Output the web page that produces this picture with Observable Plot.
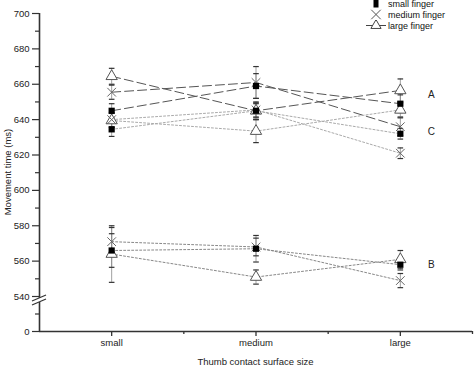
<!DOCTYPE html>
<html><head><meta charset="utf-8">
<script src="https://cdn.jsdelivr.net/npm/d3@7"></script>
<script src="https://cdn.jsdelivr.net/npm/@observablehq/plot@0.6"></script>
<style>
body{margin:0;background:#fff;font-family:"Liberation Sans",Arial,sans-serif;}
#wrap{position:relative;width:474px;height:366px;overflow:hidden;}
#legend{position:absolute;left:362px;top:-2px;font-size:9px;color:#111;}
#legend .row{display:flex;align-items:center;height:11px;}
#legend svg{width:26px;height:11px;margin-right:0px;}
#xtitle{position:absolute;left:0;width:511px;top:356px;text-align:center;font-size:9.5px;color:#222;}
#ytitle{position:absolute;left:7px;top:172px;transform:translate(-50%,-50%) rotate(-90deg);white-space:nowrap;font-size:9.5px;color:#222;}
</style></head><body>
<div id="wrap"></div>
<script>
// categories (x) and series names
const categories = ["small", "medium", "large"];
const fingers = ["small finger", "medium finger", "large finger"];
const groups = ["A", "B", "C"];

// Group A (upper, long dashes): values across categories
const A_smallFinger  = [645, 659, 649];
const A_mediumFinger = [655.5, 661, 636];
const A_largeFinger  = [664.5, 645, 656.5];
// Group C (upper, dotted)
const C_smallFinger  = [634.5, 645, 632];
const C_mediumFinger = [640, 645.5, 621];
const C_largeFinger  = [639.5, 633.5, 645.5];
// Group B (lower, dotted)
const B_smallFinger  = [566, 567, 558];
const B_mediumFinger = [571, 568, 549];
const B_largeFinger  = [564, 551, 561];

// error bar half-widths
const A_smallErr  = [4, 7, 5];
const A_mediumErr = [4, 9, 5];
const A_largeErr  = [4.5, 5, 6.5];
const C_smallErr  = [4, 4, 3];
const C_mediumErr = [4, 4, 3];
const C_largeErr  = [4, 6.5, 4];
const B_smallErr  = [9.5, 7.5, 3];
const B_mediumErr = [8, 5, 4];
const B_largeErr  = [16, 4, 5];

// y axis ticks
const yTicks = [0, 540, 560, 580, 600, 620, 640, 660, 680, 700];
const yMinor = [270, 550, 570, 590, 610, 630, 650, 670, 690];

// group labels
const groupLabels = ["A", "B", "C"];
const groupLabelY = [654, 558, 633];

const series = {
  A: [[A_smallFinger, A_smallErr], [A_mediumFinger, A_mediumErr], [A_largeFinger, A_largeErr]],
  B: [[B_smallFinger, B_smallErr], [B_mediumFinger, B_mediumErr], [B_largeFinger, B_largeErr]],
  C: [[C_smallFinger, C_smallErr], [C_mediumFinger, C_mediumErr], [C_largeFinger, C_largeErr]]
};
const rows = [];
for (const g of groups) {
  series[g].forEach(([vals, errs], fi) => {
    vals.forEach((v, ci) => rows.push({group: g, finger: fingers[fi], key: g + fi, xi: ci + 1, cat: categories[ci], v, e: errs[ci]}));
  });
}
const labels = groupLabels.map((label, i) => ({label, y: groupLabelY[i]}));

const cap = {draw(ctx, size) { const r = Math.sqrt(size / Math.PI); ctx.moveTo(-r, 0); ctx.lineTo(r, 0); }};
const byF = f => rows.filter(d => d.finger === f);
const byG = g => rows.filter(d => d.group === g);

const chart = Plot.plot({
  width: 474, height: 366,
  marginLeft: 39, marginRight: 2, marginTop: 13, marginBottom: 35,
  style: {fontFamily: "Liberation Sans, Arial, sans-serif", fontSize: "9.5px", color: "#222", background: "#fff"},
  x: {type: "linear", domain: [0.5, 3.5], axis: null},
  y: {type: "linear", domain: [0, 540, 700], range: [331, 296, 13], axis: null},
  marks: [
    Plot.line(byG("A"), {x: "xi", y: "v", z: "key", stroke: "#555", strokeWidth: 1, strokeDasharray: "9,4"}),
    Plot.line(byG("C"), {x: "xi", y: "v", z: "key", stroke: "#aaa", strokeWidth: 1, strokeDasharray: "2,2"}),
    Plot.line(byG("B"), {x: "xi", y: "v", z: "key", stroke: "#888", strokeWidth: 1, strokeDasharray: "2,2"}),
    Plot.ruleX(rows, {x: "xi", y1: d => d.v - d.e, y2: d => d.v + d.e, stroke: "#888", strokeWidth: 0.8}),
    Plot.dot(rows, {x: "xi", y: d => d.v + d.e, symbol: cap, r: 2.8, fill: "none", stroke: "#333", strokeWidth: 1.2}),
    Plot.dot(rows, {x: "xi", y: d => d.v - d.e, symbol: cap, r: 2.8, fill: "none", stroke: "#333", strokeWidth: 1.2}),
    Plot.dot(byF("large finger"), {x: "xi", y: "v", symbol: "triangle", r: 4.2, fill: "#fff", stroke: "#555", strokeWidth: 1}),
    Plot.dot(byF("medium finger"), {x: "xi", y: "v", symbol: "times", r: 4, fill: "none", stroke: "#666", strokeWidth: 1}),
    Plot.dot(byF("small finger"), {x: "xi", y: "v", symbol: "square", r: 3.5, fill: "#000", stroke: "none"}),
    Plot.text(labels, {x: 3, y: "y", text: "label", dx: 31, fontSize: 10, fill: "#222"}),
    Plot.axisX({ticks: [1, 2, 3], tickFormat: d => categories[d - 1], tickSize: 5, tickPadding: 3, label: null, stroke: "#333", strokeWidth: 1.3}),
    Plot.axisX({ticks: [1.5, 2.5, 3.5], tickFormat: () => "", tickSize: 3, label: null, stroke: "#333", strokeWidth: 1.3}),
    Plot.axisY({ticks: yTicks, tickSize: 7, tickPadding: 3, label: null, stroke: "#333", strokeWidth: 1.2}),
    Plot.axisY({ticks: yMinor, tickFormat: () => "", tickSize: 4, label: null, stroke: "#333", strokeWidth: 1.2}),
    Plot.ruleY([0], {stroke: "#333", strokeWidth: 1.6}),
    Plot.ruleX([0.5], {stroke: "#333", strokeWidth: 1.6})
  ]
});
document.getElementById("wrap").appendChild(chart);

// axis break marks
const svg = d3.select(chart);
const y = chart.scale("y");
const yb = y.apply(540) + 4;
const xb = 39;
svg.append("rect").attr("x", xb - 2).attr("y", yb - 2).attr("width", 4).attr("height", 4).attr("fill", "#fff");
[-2, 2].forEach(o => {
  svg.append("line").attr("x1", xb - 7).attr("y1", yb + o + 3).attr("x2", xb + 7).attr("y2", yb + o - 3)
    .attr("stroke", "#333").attr("stroke-width", 1.2);
});

// legend
const legend = d3.select("#wrap").append("div").attr("id", "legend");
fingers.forEach((f, i) => {
  const row = legend.append("div").attr("class", "row");
  const s = row.append("svg").attr("viewBox", "0 0 26 11");
  const g = s.append("g").attr("transform", "translate(14,5.5)");
  if (i === 0) g.append("rect").attr("x", -2.5).attr("y", -4).attr("width", 5).attr("height", 8).attr("fill", "#000");
  if (i === 1) g.append("path").attr("d", d3.symbol(d3.symbolTimes, 60)()).attr("stroke", "#555").attr("fill", "none");
  if (i === 2) {
    g.append("line").attr("x1", -10).attr("x2", 10).attr("stroke", "#444");
    g.append("path").attr("d", d3.symbol(d3.symbolTriangle, 45)()).attr("fill", "#fff").attr("stroke", "#444");
  }
  row.append("span").text(f);
});

d3.select("#wrap").append("div").attr("id", "xtitle").text("Thumb contact surface size");
d3.select("#wrap").append("div").attr("id", "ytitle").text("Movement time (ms)");
</script>
</body></html>
